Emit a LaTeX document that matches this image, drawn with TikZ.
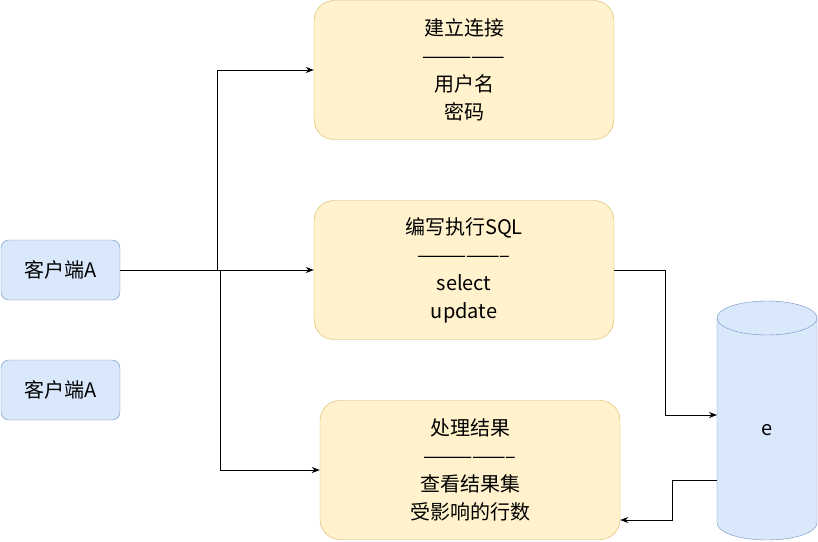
\documentclass[tikz,border=0pt]{standalone}
\usepackage{fontspec}
\setmainfont{Noto Sans CJK SC}
\usetikzlibrary{arrows.meta}
\definecolor{bfill}{HTML}{DAE8FC}\definecolor{bline}{HTML}{6C8EBF}
\definecolor{yfill}{HTML}{FFF2CC}\definecolor{yline}{HTML}{D6B656}
\begin{document}
\begin{tikzpicture}[x=1pt,y=-1pt,
  client/.style={draw=bline,fill=bfill,rounded corners=8pt,minimum width=119pt,minimum height=60pt,font=\fontsize{20}{24}\selectfont},
  task/.style={draw=yline,fill=yfill,rounded corners=20pt,minimum width=300pt,minimum height=139pt,align=center,font=\fontsize{20}{28}\selectfont},
  conn/.style={draw=black,line width=0.8pt,-{Stealth[length=8pt,width=6pt]}}]
\useasboundingbox (0,0) rectangle (818,541);
\node[client] (a1) at (60.5,270) {客户端A};
\node[client] (a2) at (60.5,390) {客户端A};
\node[task] (b1) at (464,70) {建立连接\\---------------\\用户名\\密码};
\node[task] (b2) at (464,270) {编写执行SQL\\-----------------\\select\\update};
\node[task] (b3) at (470,470) {处理结果\\-----------------\\查看结果集\\受影响的行数};
% cylinder
\coordinate (db) at (767,420);
\draw[bline,fill=bfill] (717,318) -- (717,523) arc[start angle=180,end angle=360,x radius=50,y radius=-17] -- (817,318) arc[start angle=0,end angle=180,x radius=50,y radius=-17] -- cycle;
\draw[bline] (717,318) arc[start angle=180,end angle=360,x radius=50,y radius=-17];
\node[font=\fontsize{20}{24}\selectfont] (dbl) at (767,430) {e};
\coordinate (dbin) at (717,415);
\coordinate (dbout) at (717,480);
\path[conn] (a1.east) -- (217,270) |- (b1.west);
\path[conn] (a1.east) -- (b2.west);
\path[conn] (217,270) -- (220,270) |- (b3.west);
\path[conn] (b2.east) -- (665,270) |- (dbin);
\path[conn] (dbout) -- (672,480) |- (b3.east |- 0,520);
\end{tikzpicture}
\end{document}
